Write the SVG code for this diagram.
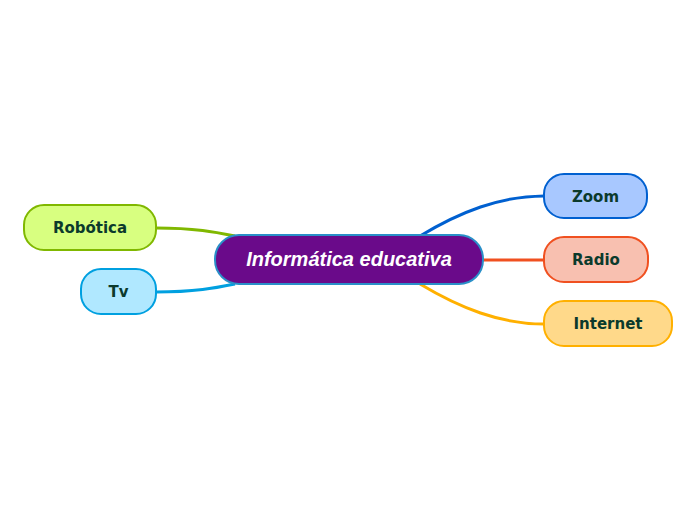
<svg xmlns="http://www.w3.org/2000/svg" width="696" height="520" viewBox="0 0 696 520">
<style>
.c{fill:none;stroke-width:3}
.n{stroke-width:2}
.t{font-family:"DejaVu Sans",sans-serif;font-weight:bold;font-size:15px;fill:#0b3a2c;text-anchor:middle}
</style>
<rect width="696" height="520" fill="#fff"/>
<g id="connectors">
<path class="c" stroke="#0060d0" d="M420,236 C460,212 500,196 544,196"/>
<path class="c" stroke="#f05020" d="M483,260 L544,260"/>
<path class="c" stroke="#ffb000" d="M420,284 C460,308 500,324 544,324"/>
<path class="c" stroke="#80b800" d="M156,228 C195,228 215,232 235,236"/>
<path class="c" stroke="#00a0e0" d="M156,292 C195,292 215,288 235,284"/>
</g>
<g id="center">
<rect class="n" x="215" y="235" width="268" height="49" rx="24" fill="#6a0a8a" stroke="#2a8fc8"/>
<text x="349" y="266" font-family="Liberation Sans,Arial,sans-serif" font-weight="bold" font-style="italic" font-size="20" fill="#fff" text-anchor="middle">Informática educativa</text>
</g>
<g id="zoom"><rect class="n" x="544" y="174" width="103" height="44" rx="20" fill="#a8c8ff" stroke="#0060d0"/><text class="t" x="595.5" y="202">Zoom</text></g>
<g id="radio"><rect class="n" x="544" y="237" width="104" height="45" rx="20" fill="#f8c0b0" stroke="#f05020"/><text class="t" x="596" y="265">Radio</text></g>
<g id="internet"><rect class="n" x="544" y="301" width="128" height="45" rx="20" fill="#ffd98a" stroke="#ffb000"/><text class="t" x="608" y="329">Internet</text></g>
<g id="robotica"><rect class="n" x="24" y="205" width="132" height="45" rx="20" fill="#d8ff80" stroke="#80b800"/><text class="t" x="90" y="233">Robótica</text></g>
<g id="tv"><rect class="n" x="81" y="269" width="75" height="45" rx="20" fill="#b0e8ff" stroke="#00a0e0"/><text class="t" x="118.5" y="297">Tv</text></g>
</svg>
